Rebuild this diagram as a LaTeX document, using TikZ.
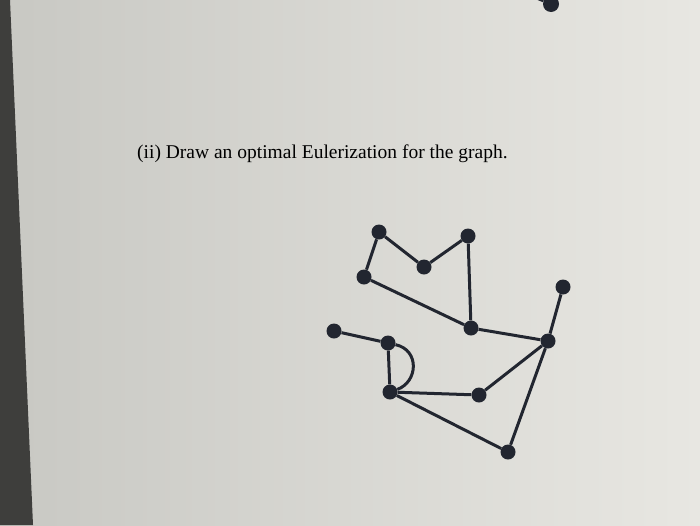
\documentclass[tikz,border=0pt]{standalone}
\usepackage{fontspec}
\setmainfont{Liberation Serif}
\definecolor{paper}{RGB}{232,231,226}
\definecolor{papershade}{RGB}{200,200,195}
\definecolor{desk}{RGB}{62,62,60}
\definecolor{ink}{RGB}{34,38,48}
\tikzset{
  vert/.style={circle,fill=ink,inner sep=0pt,minimum size=15pt},
  edge/.style={draw=ink,line width=3pt}
}
\begin{document}
\begin{tikzpicture}[x=1pt,y=-1pt]

% Paper and desk
\useasboundingbox (0,0) rectangle (700,525);
\shade[left color=papershade,right color=paper] (0,0) rectangle (700,525);
\fill[desk] (0,0)--(10,0)--(33,525)--(0,525)--cycle;

% Question
\node[anchor=base west,inner sep=0pt,font=\fontsize{19.5}{22}\selectfont] (q) at (137,158) {(ii) Draw an optimal Eulerization for the graph.};

% Dot from the part above
\node[vert,minimum size=16pt] (top) at (551,4) {};
\coordinate (topend) at (532,-4);
\draw[edge] (top)--(topend);

% Vertices
\node[vert] (a) at (379,232) {};
\node[vert] (b) at (424,267) {};
\node[vert] (c) at (468,236) {};
\node[vert] (d) at (364,277) {};
\node[vert] (e) at (471,328) {};
\node[vert] (f) at (563,287) {};
\node[vert] (g) at (548,341) {};
\node[vert] (h) at (334,331) {};
\node[vert] (i) at (388,343) {};
\node[vert] (j) at (390,392) {};
\node[vert] (k) at (479,395) {};
\node[vert] (l) at (508,452) {};

% Edges
\draw[edge] (a)--(b);
\draw[edge] (b)--(c);
\draw[edge] (a)--(d);
\draw[edge] (c)--(e);
\draw[edge] (d)--(e);
\draw[edge] (e)--(g);
\draw[edge] (g)--(f);
\draw[edge] (g)--(k);
\draw[edge] (g)--(l);
\draw[edge] (h)--(i);
\draw[edge] (i)--(j);
\draw[edge] (i) .. controls (420,350) and (418,382) .. (j);
\draw[edge] (j)--(k);
\draw[edge] (j)--(l);

\end{tikzpicture}
\end{document}
